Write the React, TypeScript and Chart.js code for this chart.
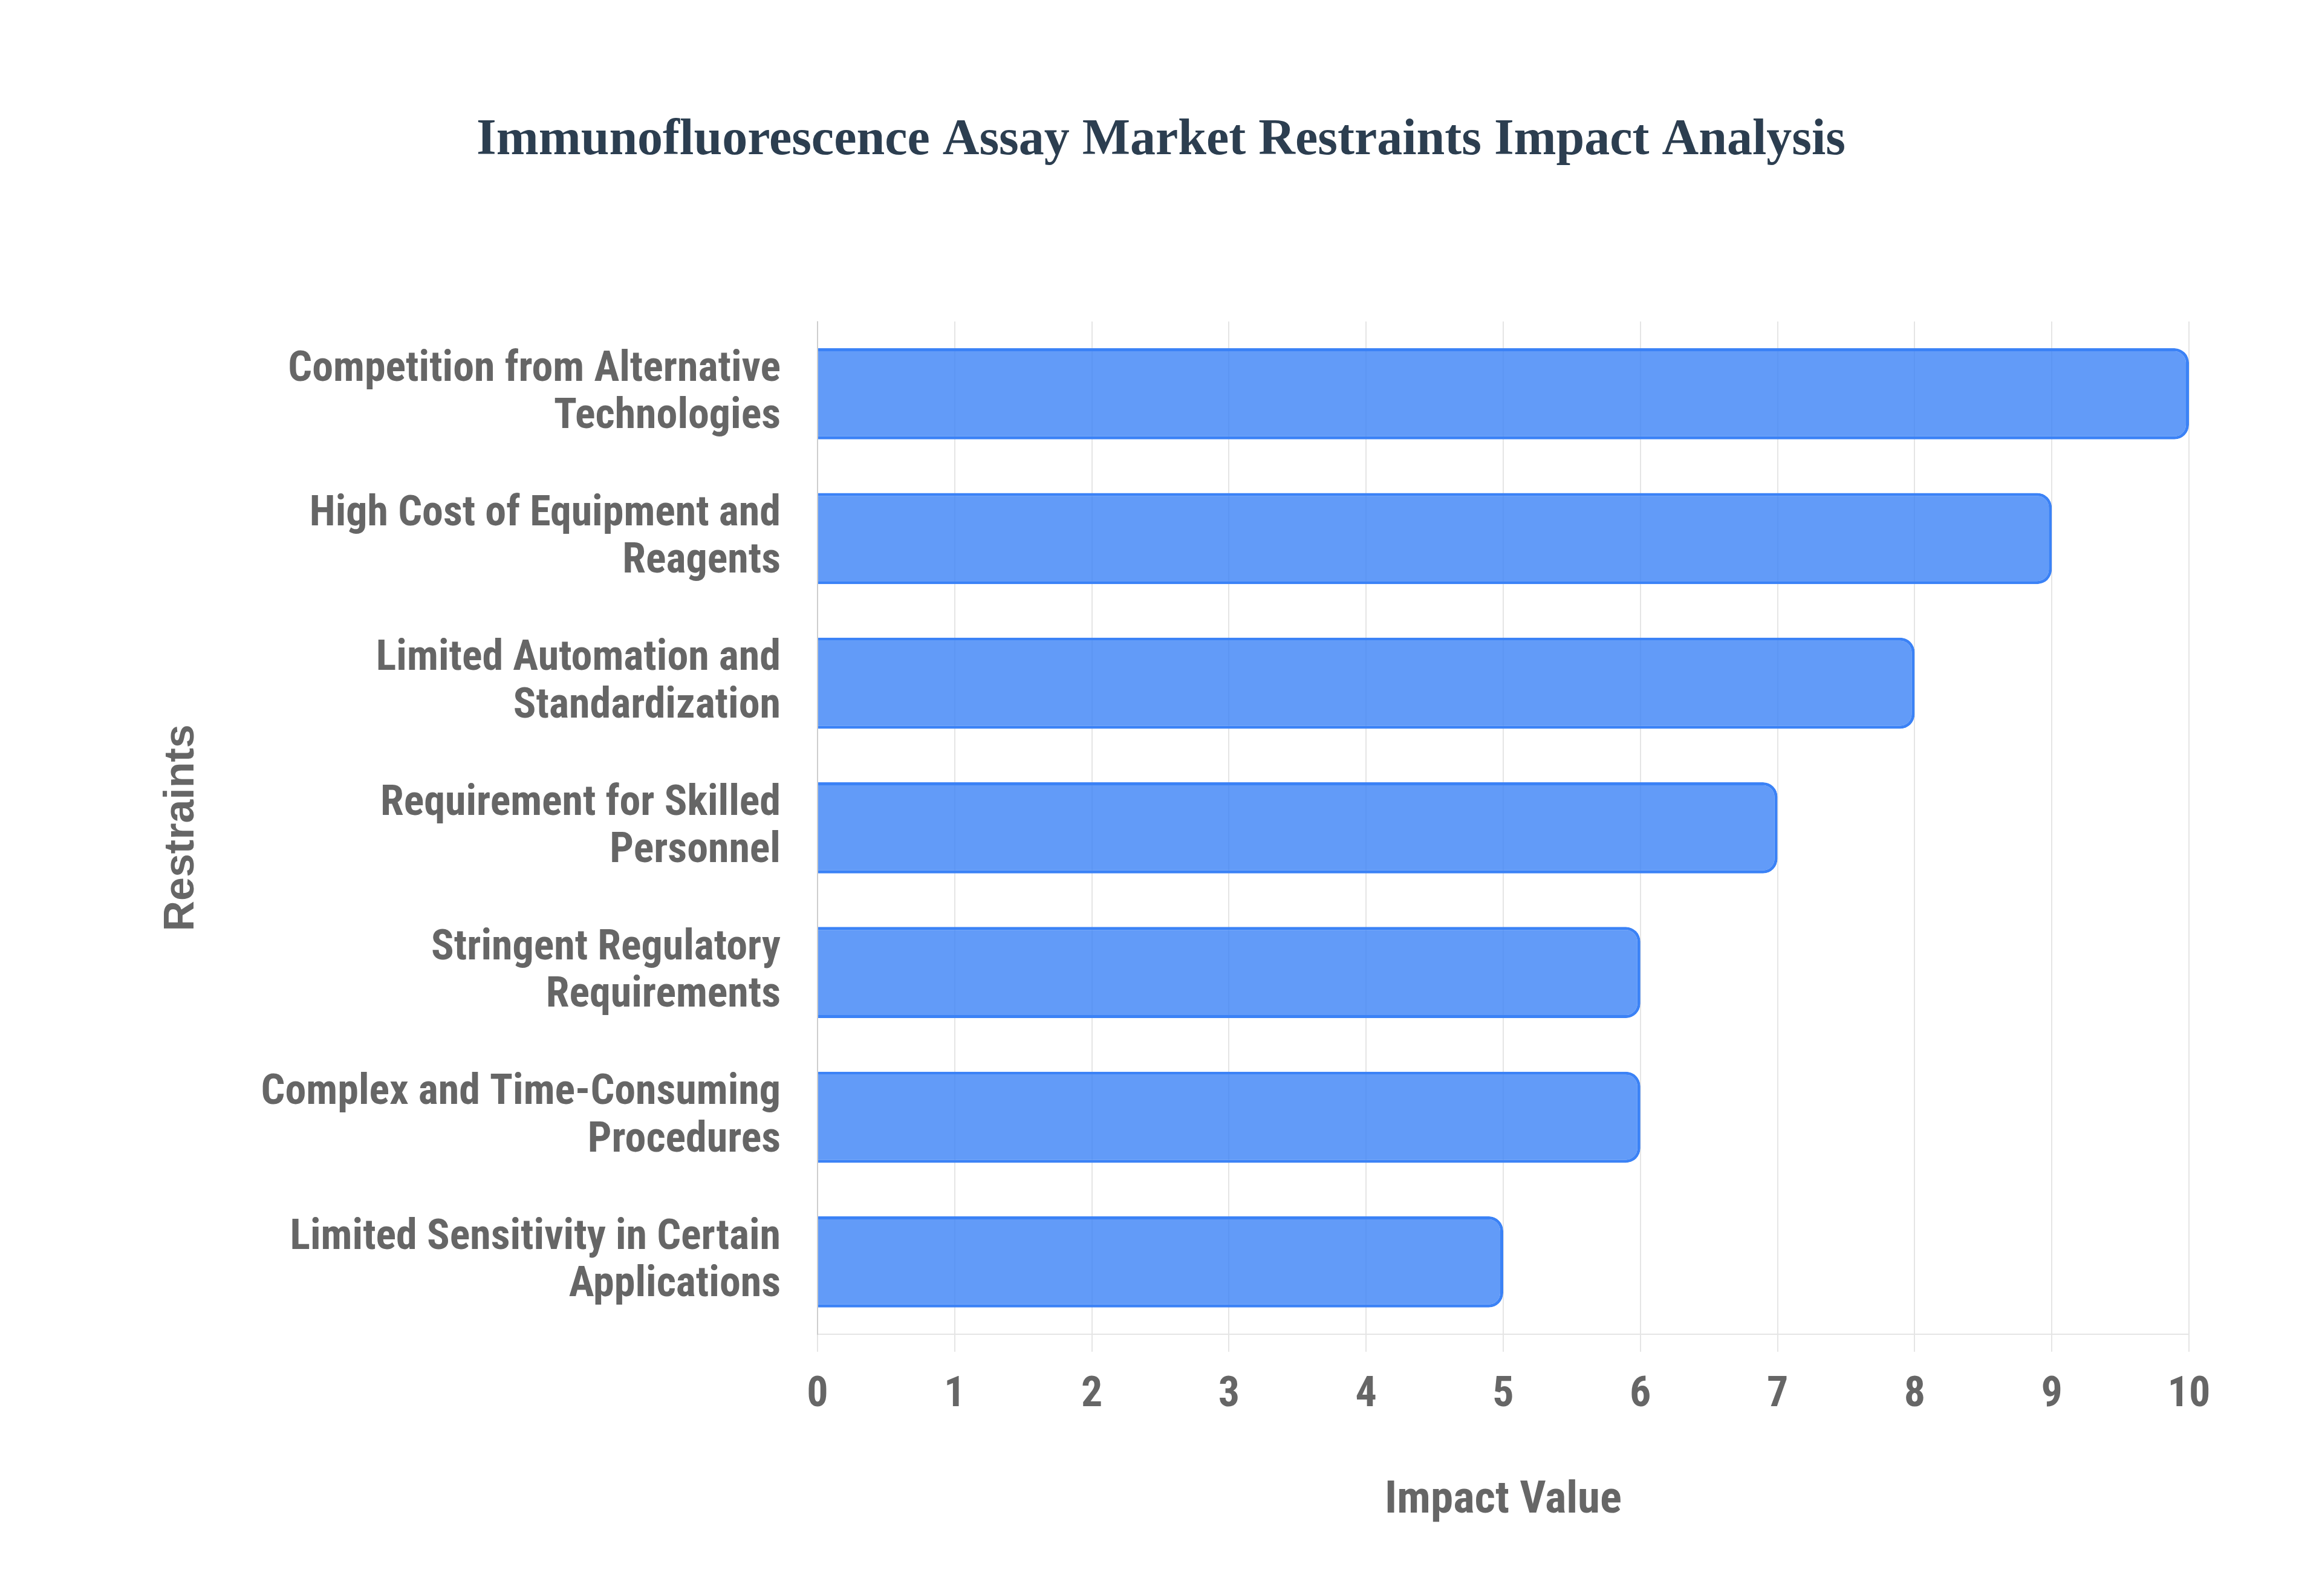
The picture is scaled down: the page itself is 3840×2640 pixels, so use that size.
import React, { useEffect, useRef } from "react";
import { Chart, registerables } from "chart.js";

Chart.register(...registerables);

const categories: string[][] = [
  ["Competition from Alternative", "Technologies"],
  ["High Cost of Equipment and", "Reagents"],
  ["Limited Automation and", "Standardization"],
  ["Requirement for Skilled", "Personnel"],
  ["Stringent Regulatory", "Requirements"],
  ["Complex and Time-Consuming", "Procedures"],
  ["Limited Sensitivity in Certain", "Applications"],
];
const impactValues: number[] = [10, 9, 8, 7, 6, 6, 5];
const xTickMin = 0;
const xTickMax = 10;
const xTickStep = 1;

const chartTitle = "Immunofluorescence Assay Market Restraints Impact Analysis";
const xTitle = "Impact Value";
const yTitle = "Restraints";

const COND = "'Roboto Condensed', 'Liberation Sans Narrow', 'Arial Narrow', sans-serif";
const SANS = "'Liberation Sans', Arial, Helvetica, sans-serif";
const SERIF = "'Liberation Serif', 'Times New Roman', Times, serif";

export default function App() {
  const ref = useRef<HTMLCanvasElement | null>(null);
  useEffect(() => {
    if (!ref.current) return;
    const chart = new Chart(ref.current, {
      type: "bar",
      data: {
        labels: categories,
        datasets: [
          {
            label: "Impact Value",
            data: impactValues,
            backgroundColor: "rgba(59,130,246,0.8)",
            borderColor: "rgb(59,130,246)",
            borderWidth: 5,
            borderRadius: 24,
            borderSkipped: "start",
            barPercentage: 0.7,
            categoryPercentage: 0.9,
            yAxisID: "y",
            xAxisID: "x",
          },
        ],
      },
      options: {
        indexAxis: "y",
        animation: false,
        responsive: true,
        maintainAspectRatio: false,
        devicePixelRatio: 1,
        layout: { padding: 0 },
        plugins: {
          legend: { display: false },
          tooltip: { enabled: false },
          title: {
            display: true,
            text: chartTitle,
            color: "#2c3e50",
            font: { family: SERIF, size: 84, weight: "bold", lineHeight: 1.2 },
            padding: { top: 175, bottom: 248 },
          },
        },
        scales: {
          x: {
            min: xTickMin,
            max: xTickMax,
            ticks: {
              stepSize: xTickStep,
              color: "#666",
              padding: 30,
              font: { family: COND, size: 70, weight: "bold", lineHeight: 1.2 },
            },
            grid: {
              color: "rgba(0,0,0,0.1)",
              lineWidth: 2,
              tickLength: 29,
              drawTicks: true,
            },
            border: { display: true, color: "rgba(0,0,0,0.1)", width: 2 },
            title: {
              display: true,
              text: xTitle,
              color: "#666",
              font: { family: COND, size: 75, weight: "bold", lineHeight: 1.2 },
              padding: { top: 0, bottom: 104 },
            },
            afterFit: (scale: any) => {
              scale.height = 425;
            },
          },
          y: {
            ticks: {
              color: "#666",
              padding: 61,
              font: { family: COND, size: 70, weight: "bold", lineHeight: 1.12 },
            },
            grid: { display: false, drawTicks: false },
            border: { display: true, color: "rgba(0,0,0,0.1)", width: 2 },
            title: {
              display: true,
              text: yTitle,
              color: "#666",
              font: { family: SANS, size: 70, weight: "bold", lineHeight: 1.2 },
              padding: { top: 251, bottom: 0 },
            },
            afterFit: (scale: any) => {
              scale.width = 1344;
            },
          },
          yRight: {
            type: "linear",
            axis: "y",
            position: "right",
            display: true,
            ticks: { display: false },
            grid: { display: false, drawTicks: false },
            border: { display: false },
            title: { display: false },
            afterFit: (scale: any) => {
              scale.width = 212;
            },
          },
        },
      },
    } as any);
    return () => chart.destroy();
  }, []);
  return (
    <div style={{ width: 3824, height: 2624, position: "relative" }}>
      <canvas ref={ref} />
    </div>
  );
}
